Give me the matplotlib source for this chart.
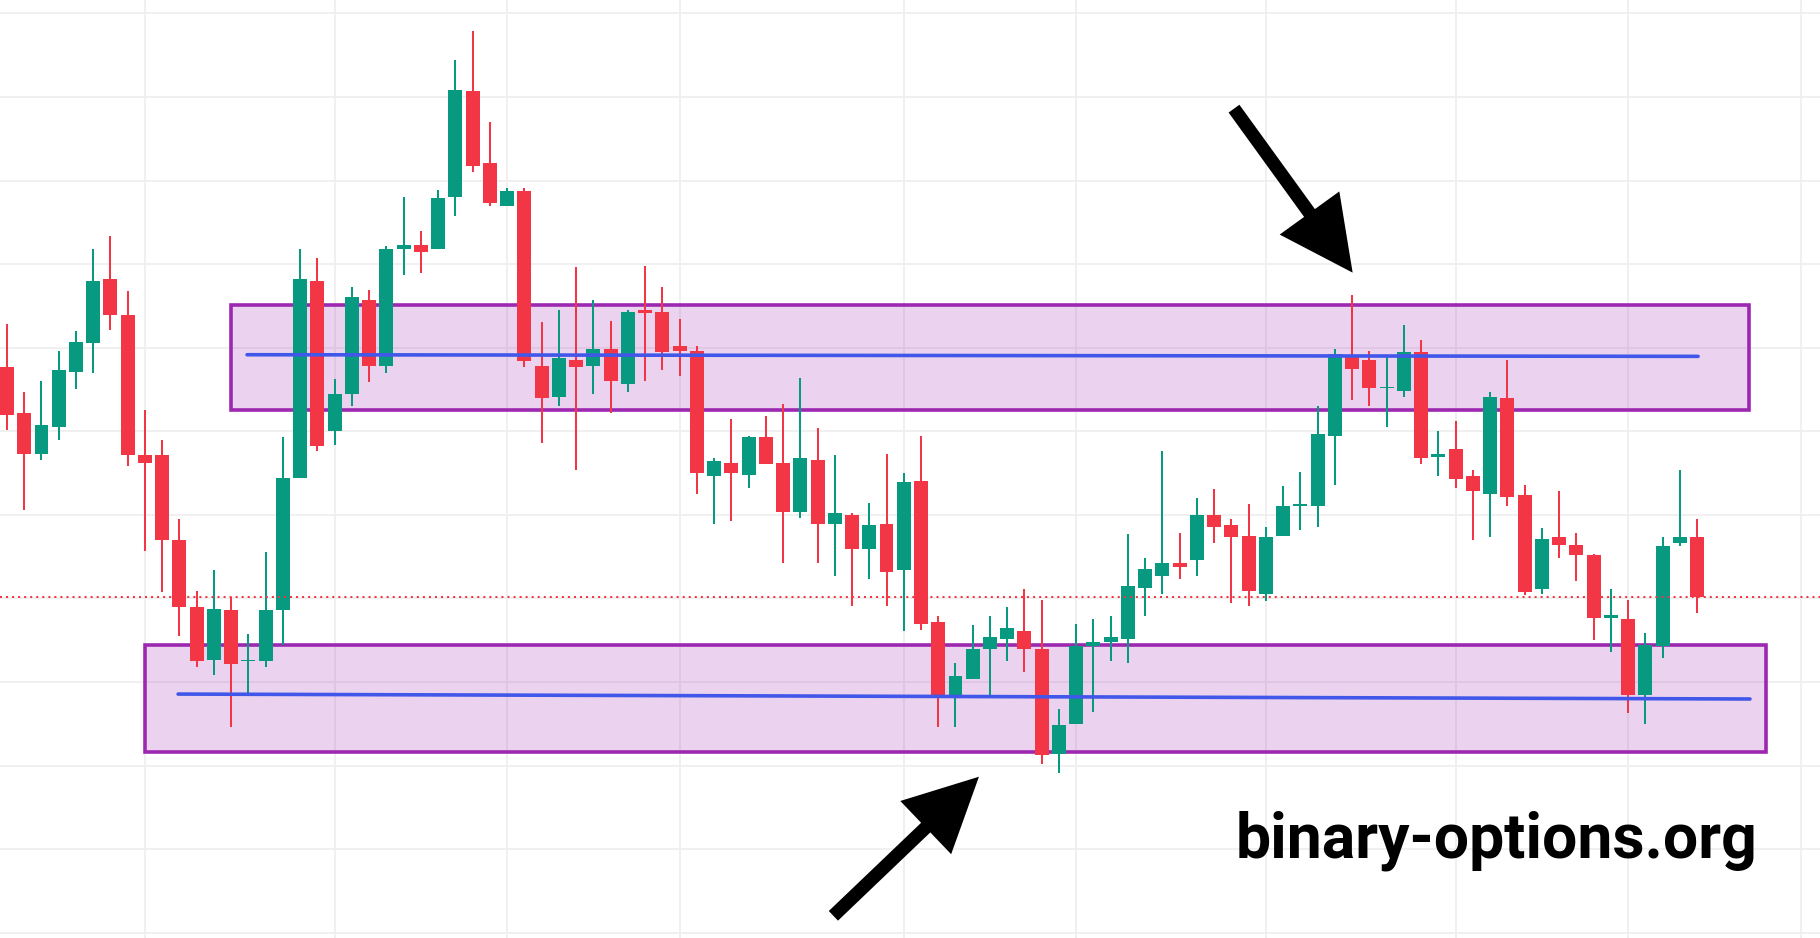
import numpy as np
import matplotlib
matplotlib.use("Agg")
import matplotlib.pyplot as plt
from matplotlib.patches import Rectangle, FancyArrowPatch

# ---- candle data (price units) ----
opens = [754, 723, 696, 714, 751, 770, 813, 789, 695, 695,
         638, 593, 558, 591, 557, 557, 591, 680, 812, 711,
         736, 799, 755, 833, 836, 833, 868, 939, 891, 862,
         872, 755, 734, 759, 755, 766, 743, 792, 791, 768,
         765, 681, 690, 682, 707, 690, 657, 692, 649, 655,
         632, 649, 618, 678, 583, 533, 545, 565, 572, 577,
         565, 495, 515, 567, 570, 572, 606, 614, 623, 625,
         655, 648, 641, 602, 641, 661, 661, 708, 762, 759,
         740, 738, 764, 694, 699, 681, 669, 733, 668, 605,
         640, 635, 628, 586, 585, 534, 567, 636, 640]
highs = [783, 737, 745, 765, 778, 833, 842, 805, 725, 705,
         652, 604, 618, 600, 575, 630, 707, 833, 827, 746,
         808, 806, 835, 868, 845, 873, 960, 979, 918, 874,
         874, 784, 792, 821, 799, 785, 792, 822, 808, 786,
         768, 693, 719, 708, 721, 729, 747, 713, 695, 656,
         663, 696, 683, 708, 587, 556, 581, 587, 593, 605,
         598, 525, 582, 585, 587, 642, 626, 698, 643, 666,
         672, 652, 662, 647, 674, 684, 728, 766, 802, 765,
         761, 782, 772, 711, 718, 685, 737, 759, 675, 646,
         671, 643, 629, 605, 598, 576, 640, 685, 652]
lows = [712, 658, 692, 705, 739, 750, 779, 688, 631, 603,
        574, 553, 548, 513, 534, 553, 568, 680, 698, 702,
        728, 744, 750, 816, 817, 833, 855, 885, 862, 862,
        754, 703, 728, 685, 736, 723, 737, 745, 752, 748,
        669, 649, 651, 673, 689, 623, 653, 623, 614, 594,
        612, 594, 577, 578, 513, 513, 545, 534, 557, 550,
        488, 482, 515, 523, 557, 556, 587, 602, 612, 614,
        636, 596, 594, 597, 641, 645, 647, 675, 732, 728,
        714, 734, 689, 681, 673, 638, 640, 661, 601, 602,
        626, 611, 571, 563, 522, 515, 559, 634, 589]
closes = [722, 696, 715, 752, 771, 812, 789, 695, 690, 638,
          593, 557, 592, 555, 558, 591, 680, 813, 701, 736,
          801, 755, 833, 836, 831, 867, 940, 889, 864, 872,
          758, 733, 760, 754, 766, 745, 791, 790, 764, 765,
          683, 691, 683, 707, 689, 657, 693, 649, 656, 632,
          648, 617, 677, 582, 533, 547, 565, 573, 579, 565,
          494, 514, 567, 570, 573, 607, 619, 623, 620, 655,
          647, 640, 604, 640, 661, 662, 709, 763, 753, 740,
          741, 764, 693, 696, 679, 671, 734, 667, 603, 639,
          635, 628, 586, 588, 534, 568, 634, 640, 600]

# zones: (x_start, x_end, price_low, price_high)
upper_zone = (12.99, 101.0, 725.3, 795.8)
lower_zone = (8.0, 102.0, 496.1, 568.1)
# level lines: (x0, p0, x1, p1)
upper_level = (13.92, 762.3, 98.06, 761.2)
lower_level = (9.92, 534.9, 101.07, 531.6)
# arrows: (x_tail, p_tail, x_tip, p_tip)
arrow_down = (71.15, 927.2, 78.03, 817.3)
arrow_up = (47.92, 386.3, 56.36, 479.5)
grid_cols = [8, 19, 29, 39, 52, 62, 73, 84, 94, 104]
grid_top, grid_step, grid_n = 991, 56, 12
watermark = "binary-options.org"

GREEN = "#089981"
RED = "#F23645"
PURPLE = "#9C27B0"
BLUE = "#4157E9"

fig = plt.figure(figsize=(18.2, 9.38), dpi=100)
ax = fig.add_axes([0, 0, 1, 1])
ax.set_xlim(-0.406, 105.13)
ax.set_ylim(371.44, 1000)
ax.axis("off")
fig.patch.set_facecolor("white")

# grid
for gx in grid_cols:
    ax.axvline(gx, color="#EFEFEF", lw=1.3, zorder=0)
for k in range(grid_n):
    ax.axhline(grid_top - grid_step * k, color="#EFEFEF", lw=1.3, zorder=0)

# zones (below the candles)
for (x0, x1, p0, p1) in (upper_zone, lower_zone):
    ax.add_patch(Rectangle((x0, p0), x1 - x0, p1 - p0, facecolor=PURPLE, alpha=0.2,
                           edgecolor="none", zorder=1))
    ax.add_patch(Rectangle((x0, p0), x1 - x0, p1 - p0, facecolor="none",
                           edgecolor=PURPLE, lw=2.6, zorder=1.5))

o = np.array(opens, float)
h = np.array(highs, float)
l = np.array(lows, float)
c = np.array(closes, float)
x = np.arange(len(o))
up = c >= o
cols = np.where(up, GREEN, RED)

ax.vlines(x, l, h, colors=cols, lw=1.45, zorder=2)
body_bot = np.minimum(o, c)
body_h = np.maximum(np.abs(c - o), 0.7)
ax.bar(x, body_h, bottom=body_bot, width=0.81, color=cols, linewidth=0, zorder=3)

# last price dotted line
ax.axhline(c[-1], color=RED, lw=1.45, linestyle=(0, (1, 2)), zorder=4)

# level lines
for (x0, p0, x1, p1) in (upper_level, lower_level):
    ax.plot([x0, x1], [p0, p1], color=BLUE, lw=2.6, solid_capstyle="round", zorder=7)

# arrows
for (xa, pa, xb, pb) in (arrow_down, arrow_up):
    arr = FancyArrowPatch((xa, pa), (xb, pb),
                          arrowstyle="simple,head_length=53,head_width=53,tail_width=9.6",
                          mutation_scale=1, shrinkA=0, shrinkB=0,
                          color="black", lw=0, zorder=8)
    ax.add_patch(arr)

ax.text(0.6791, 0.0853, watermark, transform=ax.transAxes, ha="left", va="baseline",
        fontsize=45, fontweight="bold", family=["Roboto", "DejaVu Sans"], color="black",
        zorder=9)

fig.savefig("out.png", dpi=100, facecolor="white")
